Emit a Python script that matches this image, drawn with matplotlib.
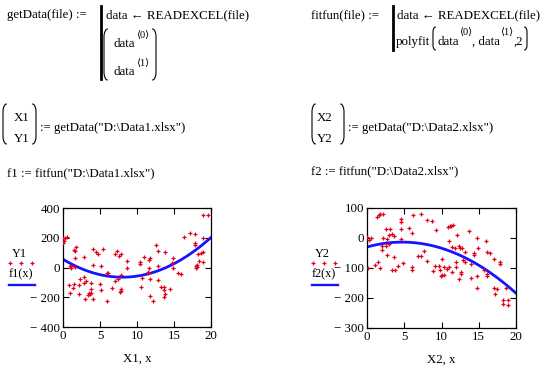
import numpy as np
import matplotlib
matplotlib.use("Agg")
import matplotlib.pyplot as plt
from matplotlib.ticker import FixedLocator, FuncFormatter

FONT = ['Liberation Serif', 'DejaVu Serif']
FS = 9.3
RED = '#e3001b'
BLUE = '#1414ff'

# data
X1 = [0.0, 0.1, 0.0, 0.3, 0.6, 1.7, 1.6, 1.55, 1.6, 1.0, 1.1, 1.1, 1.6,
      4.0, 4.4, 4.7, 5.4, 2.9, 5.2, 4.0, 7.0, 7.3, 7.6, 7.8, 8.6, 8.7,
      5.9, 6.1, 7.8, 7.4, 7.0, 6.6, 6.0, 7.8, 7.8, 7.7, 2.3, 2.1, 1.5,
      1.3, 0.8, 0.9, 2.8, 3.1, 2.8, 3.8, 3.8, 3.75, 3.5, 3.6, 3.4, 4.1,
      3.0, 2.1, 5.0, 5.2,
      18.95, 19.6, 16.3, 17.1, 17.8, 17.9, 17.9, 18.95, 18.2, 18.7, 18.95,
      18.4, 18.95, 18.1, 18.0, 18.0, 18.1, 12.5, 12.9, 13.8, 10.9, 10.4,
      10.4, 11.6, 11.8, 12.9, 11.6, 11.5, 11.5, 14.7, 14.8, 14.9, 15.6,
      15.9, 10.7, 11.8, 12.9, 10.6, 13.2, 13.7, 13.7, 14.5, 13.8, 13.6,
      11.7, 12.1]
Y1 = [195, 178, 164, 200, 202, 138, 111, 115, 64, 13, 0, 9, 4,
      127, 104, 91, 127, 71, 7, 20, 93, 109, 75, 89, 44, -2,
      -36, -36, -49, -80, -93, -135, -222, -147, -155, -162, -78, -120, -113,
      -135, -118, -169, -62, -91, -107, -107, -147, -169, -173, -178, -184, -209,
      -209, -180, -109, -151,
      351, 351, 204, 231, 224, 164, 151, 198, 93, 98, 104,
      44, 38, 20, 13, -2, 4, 151, 111, 102, 71, 38,
      22, 53, 67, 13, -2, -29, -40, 31, 64, -2, -36,
      -44, -73, -76, -84, -129, -129, -129, -151, -142, -175, -196,
      -189, -222]

X2 = [0.0, 0.3, 0.6, 0.2, 1.3, 1.6, 1.7, 2.2, 2.5, 3.1, 2.9, 3.4, 3.6,
      2.2, 2.7, 2.0, 2.0, 2.6, 3.0, 2.7, 3.6, 1.5, 1.1, 1.8, 3.3, 3.7,
      4.2, 4.8, 4.5, 4.5, 4.5, 4.5, 5.6, 6.2, 7.2, 6.1, 6.8, 7.3, 7.6,
      8.1, 6.1, 6.0, 8.1, 8.7, 9.2, 9.1, 8.9, 9.7, 9.8, 10.1, 9.9, 10.3,
      10.0,
      10.9, 11.1, 11.3, 11.6, 13.7, 12.1, 14.8, 11.0, 11.4, 11.8, 12.4,
      12.5, 12.8, 13.1, 14.4, 14.4, 14.9, 16.0, 16.1, 16.5, 17.0, 17.8,
      17.8, 10.4, 10.8, 11.0, 11.4, 12.0, 12.0, 12.6, 12.6, 12.3, 13.2,
      12.9, 13.9, 14.0, 14.7, 14.7, 15.7, 16.1, 16.1, 17.0, 17.4, 17.2,
      18.6, 18.2, 18.3, 18.9, 18.9]
Y2 = [3, -6, -1, -100, 70, 76, 79, 79, 30, 30, 9, 12, 7,
      1, -3, -27, -41, -27, -21, -57, -64, -80, -90, -100, -107, -107,
      -94, -82, 64, 55, 30, -3, 34, 77, 79, 17, -60, -60, -44,
      -78, -97, -107, 61, 57, 27, -94, -111, -93, -108, -124, -128, -123,
      -70,
      37, 40, 41, 43, 23, 9, 1, -10, -30, -34, -25,
      -34, -34, -45, -49, -56, -34, -10, -48, -51, -70, -80,
      -87, -97, -103, -97, -114, -80, -97, -114, -119, -137, -80,
      -74, -88, -133, -127, -167, -108, -119, -125, -167, -171, -187,
      -166, -207, -220, -207, -223]

# quadratic fits f1, f2 (coefficients)
F1 = [1.865, -29.95, 55]
F2 = [-0.73, 6.9, -30]

XTICKS = [0, 5, 10, 15, 20]
YTICKS1 = [-400, -200, 0, 200, 400]
YTICKS2 = [-300, -200, -100, 0, 100]

W, H = 555, 371
fig = plt.figure(figsize=(W / 100, H / 100), dpi=100)
fig.patch.set_facecolor('white')

ov = fig.add_axes([0, 0, 1, 1])
ov.set_xlim(0, W)
ov.set_ylim(H, 0)
ov.axis('off')


def txt(x, y, s, size=FS, **kw):
    ov.text(x, y, s, fontsize=size, family=FONT, va='baseline', ha='left', **kw)


def paren(x, y0, y1, side=1, c=3.5, v=8):
    # thin mathcad style bracket, side=1 is "(", -1 is ")"
    t = np.linspace(0, np.pi / 2, 14)
    cx = x + side * c * (1 - np.sin(t))
    cy = y0 + v * (1 - np.cos(t))
    xs = np.concatenate([cx, cx[::-1]])
    ys = np.concatenate([cy, (y1 - (cy - y0))[::-1]])
    ov.plot(xs, ys, color='black', lw=0.8, solid_capstyle='round')


# left column
txt(7, 18, 'getData(file) :=')
ov.plot([101, 101], [6, 79], color='black', lw=2)
txt(106, 18, 'data \u2190 READEXCEL(file)')
paren(104, 29, 80, 1)
paren(156, 29, 80, -1)
txt(114, 47, 'data')
txt(136, 38, '\u27e80\u27e9', size=7.5)
txt(114, 75, 'data')
txt(136, 66, '\u27e81\u27e9', size=7.5)

paren(3, 104, 144, 1)
paren(36, 104, 144, -1)
txt(14, 121, 'X1')
txt(14, 142, 'Y1')
txt(40, 131, ':= getData("D:\\Data1.xlsx")')
txt(7, 176, 'f1 := fitfun("D:\\Data1.xlsx")')

# right column
txt(311, 18, 'fitfun(file) :=')
ov.plot([393, 393], [6, 50], color='black', lw=2)
txt(397, 18, 'data \u2190 READEXCEL(file)')
txt(396, 45, 'polyfit')
paren(433, 27, 50, 1, c=2.5, v=5)
txt(437, 45, 'data')
txt(459, 35, '\u27e80\u27e9', size=7.5)
txt(472, 45, ', data')
txt(500, 35, '\u27e81\u27e9', size=7.5)
txt(513, 45, ',2')
paren(527, 27, 50, -1, c=2.5, v=5)

paren(312, 104, 144, 1)
paren(344, 104, 144, -1)
txt(317, 121, 'X2')
txt(317, 142, 'Y2')
txt(348, 131, ':= getData("D:\\Data2.xlsx")')
txt(311, 174, 'f2 := fitfun("D:\\Data2.xlsx")')


def minus_fmt(v, pos):
    v = int(v)
    return ('\u2212 %d' % -v) if v < 0 else '%d' % v


def make_plot(px0, px1, py0, py1, xs, ys, coef, yticks, ylim, name, fname, xlab, lx):
    ax = fig.add_axes([px0 / W, 1 - py1 / H, (px1 - px0) / W, (py1 - py0) / H])
    xx = np.linspace(0, 20, 200)
    ax.plot(xx, np.polyval(coef, xx), color=BLUE, lw=2.0, zorder=2)
    ax.plot(xs, ys, '+', color=RED, ms=3.2, mew=0.9, zorder=3)
    ax.set_xlim(0, 20)
    ax.set_ylim(*ylim)
    ax.xaxis.set_major_locator(FixedLocator(XTICKS))
    ax.yaxis.set_major_locator(FixedLocator(yticks))
    ax.yaxis.set_major_formatter(FuncFormatter(minus_fmt))
    ax.tick_params(direction='in', length=4, width=0.8, top=True, right=True,
                   labelsize=FS, pad=2)
    for lab in ax.get_xticklabels() + ax.get_yticklabels():
        lab.set_family(FONT)
    for sp in ax.spines.values():
        sp.set_linewidth(0.9)
    ax.set_xlabel(xlab, fontsize=FS, family=FONT, labelpad=8)

    # legend drawn like mathcad does it
    txt(lx + 3, 257, name, size=8.8)
    ov.plot([lx + 1, lx + 12, lx + 23], [263, 263, 263], '+', color=RED, ms=3, mew=0.9)
    txt(lx, 277.5, fname, size=8.8)
    ov.plot([lx, lx + 26], [284.5, 284.5], color=BLUE, lw=1.7)
    return ax


make_plot(63, 211, 208, 327, X1, Y1, F1, YTICKS1, (-400, 400), 'Y1', 'f1(x)', 'X1, x', 9)
make_plot(367, 516, 208, 328, X2, Y2, F2, YTICKS2, (-300, 100), 'Y2', 'f2(x)', 'X2, x', 312)

fig.savefig('out.png', dpi=100, facecolor='white')
